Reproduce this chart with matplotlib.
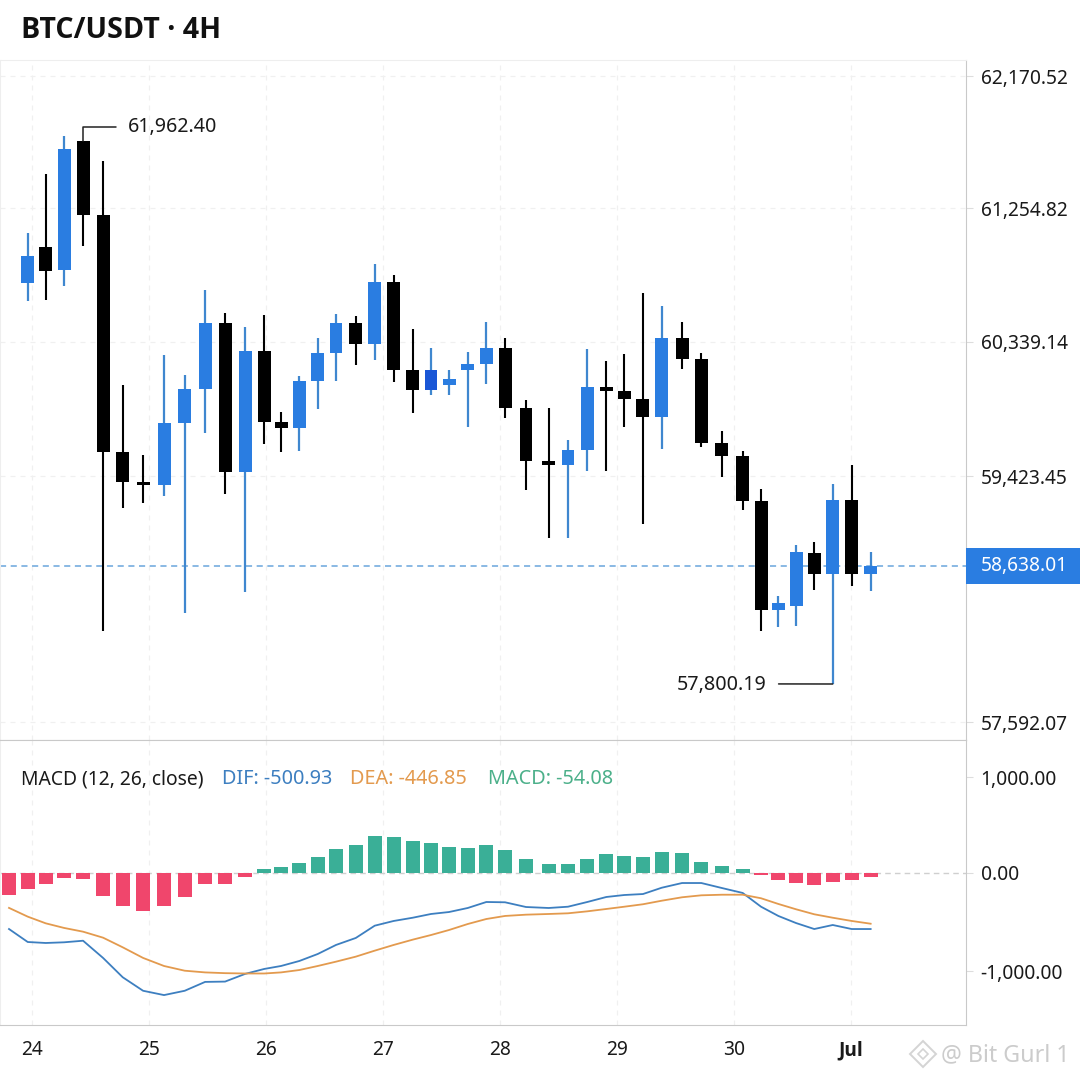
#!/usr/bin/env python
import numpy as np
import matplotlib
matplotlib.use('Agg')
import matplotlib.pyplot as plt

plt.rcParams['font.family'] = ['Noto Sans', 'DejaVu Sans']

# day of month for each 4h candle (31 = Jul 1)
days = [23.963,24.117,24.274,24.436,24.607,24.775,24.949,25.128,25.305,25.479,25.650,25.821,25.985,26.128,26.285,
        26.442,26.598,26.767,26.929,27.091,27.254,27.410,27.564,27.724,27.883,28.043,28.222,28.416,28.581,28.746,
        28.909,29.062,29.222,29.382,29.556,29.721,29.897,30.074,30.231,30.379,30.530,30.686,30.844,31.006,31.168]
opens = [60742,60988,60831,61962,61207,59588,59374,59341,59787,60021,60469,59453,60280,59790,59754,
         60073,60265,60469,60326,60749,60148,60011,60042,60148,60189,60298,59888,59526,59499,59603,
         60032,60004,59950,59827,60367,60223,59649,59560,59208,58326,58354,58754,58581,59214,58581]
highs = [61084,61609,61978,61962.40,61754,60045,59567,60250,60114,60695,60539,60442,60527,59863,60107,
         60367,60532,60520,60872,60794,60428,60298,60148,60273,60476,60367,59943,59888,59670,60293,
         60211,60257,60676,60585,60476,60264,59733,59597,59313,58425,58821,58850,59354,59499,58760]
lows = [60619,60626,60725,60992,58177,59144,59188,59245,58304,59719,59266,58453,59642,59588,59597,
        59884,60073,60182,60218,60063,59854,59977,59977,59758,60052,59820,59301,58882,58882,59458,
        59460,59758,59004,59608,60155,59624,59415,59130,58177,58207,58212,58470,57800.19,58496,58461]
closes = [60930,60824,61878,61210,59590,59374,59341,59787,60018,60469,59453,60280,59790,59754,60073,
          60264,60469,60326,60749,60148,60011,60148,60089,60189,60298,59888,59526,59499,59601,60032,
          60006,59952,59827,60367,60223,59649,59560,59208,58326,58377,58760,58581,59214,58581,58638.01]

macd_first_day = 23.803
macd_hist = [-230,-166,-115,-54,-68,-234,-336,-386,-343,-247,-115,-112,-41,38,59,105,167,244,289,383,376,334,313,
             268,261,289,237,139,91,91,146,191,178,167,212,206,115,70,38,-27,-71,-102,-129,-92,-74,-48]
dif = [-573,-705,-715,-708,-692,-867,-1058,-1183,-1223,-1183,-1101,-1098,-1027,-979,-949,-898,-827,-735,-664,-539,
       -491,-458,-420,-400,-359,-298,-301,-349,-359,-346,-298,-247,-227,-217,-153,-105,-105,-156,-206,-346,-440,
       -512,-573,-532,-573,-573]
dea = [-358,-447,-515,-562,-600,-661,-759,-867,-949,-997,-1013,-1020,-1023,-1023,-1013,-990,-949,-905,-854,-793,
       -735,-681,-634,-583,-522,-471,-440,-427,-420,-413,-393,-369,-346,-321,-285,-250,-230,-224,-224,-260,-318,
       -372,-423,-458,-491,-519]

day_ticks = [24,25,26,27,28,29,30,31]
day_labels = ['24','25','26','27','28','29','30','Jul']
price_ticks = [57592.07,59423.45,60339.14,61254.82,62170.52]
macd_ticks = [-1000,0,1000]
last_price = 58638.01

# the source chart's axes are not linear, so map value -> pixel row
price_knots = [57493.5,57592.07,57800.19,58638.01,59423.45,61254.82,61962.40,62170.52,62221.7]
price_rows = [740,722,684,566,476,208,141,76,60]
macd_knots = [-1500,-1000,0,1000,1387]
macd_rows = [1025,971,872.7,777,740]

BLUE = '#2a7de1'
WICKBLUE = '#3f87cf'
DARKBLUE = '#1a56d6'
RED = '#f0466c'
GREEN = '#3aaf97'
GRID = '#f0f0f0'
EDGE = '#c9c9c9'
TXT = '#1a1a1a'
FS = 13.8
BOLD = ['Open Sans', 'DejaVu Sans']

def warp(knots,rows):
    neg = [-r for r in rows]
    return (lambda v: np.interp(v,knots,neg), lambda r: np.interp(r,neg,knots))

W = 1080.
fig = plt.figure(figsize=(10.8,10.8),dpi=100,facecolor='white')
ax1 = fig.add_axes([0,1-740/W,966/W,680/W])
ax2 = fig.add_axes([0,1-1025/W,966/W,285/W],sharex=ax1)

days = np.array(days)
opens,highs,lows,closes = map(np.array,(opens,highs,lows,closes))
up = closes>opens
body_w = 0.111

ax1.vlines(days[up],lows[up],highs[up],color=WICKBLUE,lw=1.6,zorder=3)
ax1.vlines(days[~up],lows[~up],highs[~up],color='black',lw=1.5,zorder=3)
colors = [BLUE if u else 'black' for u in up]
colors[21] = DARKBLUE
ax1.bar(days,np.abs(closes-opens),body_w,np.minimum(opens,closes),color=colors,zorder=4)
ax1.axhline(last_price,color='#6aa6dc',lw=1.1,ls=(0,(4,3)),zorder=2)

ax1.set_yscale('function',functions=warp(price_knots,price_rows))
ax1.set_ylim(price_knots[0],price_knots[-1])
ax1.set_yticks(price_ticks)
ax1.set_yticklabels(['{:,.2f}'.format(p) for p in price_ticks])
ax1.minorticks_off()

ax1.annotate('61,962.40',xy=(days[3],highs[3]),xytext=(32.5,10),textcoords='offset points',fontsize=14.2,
             color=TXT,va='center',ha='left',
             arrowprops=dict(arrowstyle='-',color='#222222',lw=1.1,shrinkA=7,shrinkB=0,relpos=(0,0.5),
                             connectionstyle='angle,angleA=0,angleB=90,rad=0'),zorder=5)
ax1.annotate('57,800.19',xy=(days[42],lows[42]),xytext=(-48,-0.8),textcoords='offset points',fontsize=14.2,
             color=TXT,va='center',ha='right',
             arrowprops=dict(arrowstyle='-',color='#222222',lw=1.1,shrinkA=7,shrinkB=0,relpos=(1,0.56)),zorder=5)

hist = np.array(macd_hist)
macd_days = np.r_[macd_first_day,days]
ax2.bar(macd_days,hist,0.118,color=[GREEN if h>0 else RED for h in hist],zorder=3)
ax2.axhline(0,color='#cfcfcf',lw=1,ls=(0,(4,3)),zorder=1)
ax2.plot(macd_days,dif,color='#3d7fc0',lw=1.3,zorder=4)
ax2.plot(macd_days,dea,color='#e39a4e',lw=1.3,zorder=4)
ax2.set_yscale('function',functions=warp(macd_knots,macd_rows))
ax2.set_ylim(macd_knots[0],macd_knots[-1])
ax2.set_yticks(macd_ticks)
ax2.set_yticklabels(['{:,.2f}'.format(m) for m in macd_ticks])
ax2.minorticks_off()

ax2.set_xlim(23.726,31.983)
ax2.set_xticks(day_ticks)
ax2.set_xticklabels(day_labels)

for ax in (ax1,ax2):
    ax.yaxis.tick_right()
    ax.set_axisbelow(True)
    ax.grid(True,color=GRID,lw=0.9,ls=(0,(4,4)))
    ax.tick_params(axis='y',length=5,width=0.8,color='#dddddd',pad=5.5,labelsize=FS,labelcolor=TXT)
    ax.tick_params(axis='x',length=0,pad=11,labelsize=FS,labelcolor=TXT)
    ax.spines['left'].set_color('#eeeeee')
    ax.spines['top'].set_color('#eeeeee')
    ax.spines['right'].set_color(EDGE)
    ax.spines['bottom'].set_color(EDGE)
ax2.spines['top'].set_color(EDGE)
ax2.yaxis.grid(False)
plt.setp(ax1.get_xticklabels(),visible=False)
ax1.tick_params(axis='x',length=0)
plt.setp(ax2.get_xticklabels()[-1],family=BOLD,fontweight='bold')

def px(x,y,s,**kw):
    fig.text(x/W,1-y/W,s,va='center',ha='left',**kw)

px(21,31,'BTC/USDT · 4H',fontsize=20.6,family=BOLD,fontweight='bold',color='#111111')
px(21,779.5,'MACD (12, 26, close)',fontsize=13.9,color=TXT)
px(222,779.5,'DIF: -500.93',fontsize=14.3,color='#3d7fc0')
px(350,779.5,'DEA: -446.85',fontsize=14.3,color='#e39a4e')
px(488,779.5,'MACD: -54.08',fontsize=14.3,color='#4cb08a')

# last price tag
fig.add_artist(plt.Rectangle((966/W,1-584/W),114/W,36/W,transform=fig.transFigure,fc=BLUE,ec='none',zorder=5))
px(981,566,'{:,.2f}'.format(last_price),fontsize=FS,color='white',zorder=6)

# watermark
px(941,1055,'@ Bit Gurl 1',fontsize=16.7,color='#cccccc')
fig.add_artist(plt.Line2D([923/W],[1-1054/W],marker='D',ms=13,mfc='none',mec='#d4d4d4',mew=1.4,ls='none',
                          transform=fig.transFigure))
fig.add_artist(plt.Line2D([923/W],[1-1054/W],marker='D',ms=5,mfc='none',mec='#d4d4d4',mew=1.2,ls='none',
                          transform=fig.transFigure))

fig.savefig('out.png',dpi=100,facecolor='white')
plt.close('all')
